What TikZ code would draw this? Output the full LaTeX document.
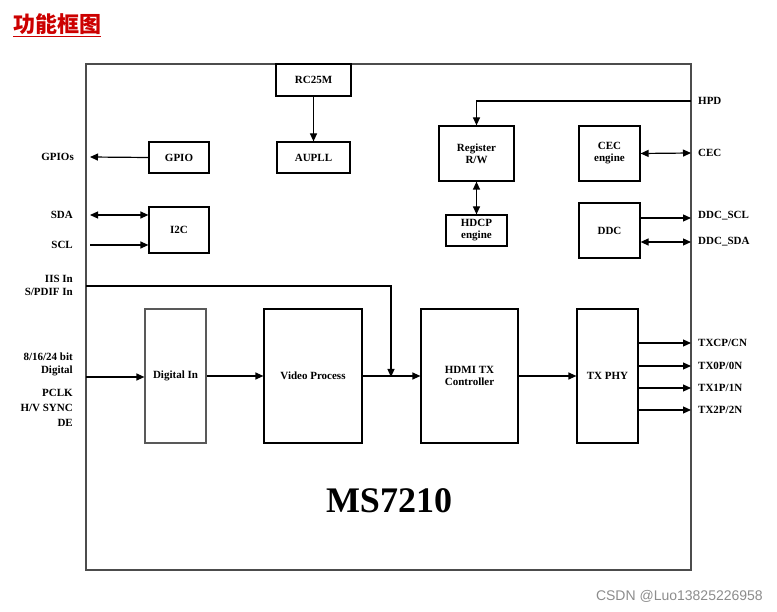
\documentclass[tikz,border=0pt]{standalone}
\usepackage{fontspec}
\setmainfont{Liberation Serif}
\newfontfamily\cjk{Noto Sans CJK SC}
\newfontfamily\wm{Liberation Sans}
\usetikzlibrary{arrows.meta}
\begin{document}
\begin{tikzpicture}[x=1pt,y=-1pt,
  blk/.style={draw,line width=1.2pt,font=\bfseries\fontsize{11}{12}\selectfont,align=center,inner sep=0pt},
  lbl/.style={font=\bfseries\fontsize{11}{13}\selectfont,inner sep=0pt},
  ar/.style={line width=1.2pt,-{Triangle[length=8pt,width=7pt]}},
  dar/.style={line width=1.2pt,{Triangle[length=8pt,width=7pt]}-{Triangle[length=8pt,width=7pt]}}]
\useasboundingbox (0,0) rectangle (777,612);
\node[anchor=west,inner sep=0pt,text=red!80!black,font=\cjk\bfseries\fontsize{22}{24}\selectfont] (title) at (13,25) {\underline{功能框图}};
\draw[line width=1.2pt,draw=black!70] (86,64) rectangle (691,570);
\path (86,64) coordinate (L0) (691,64) coordinate (R0);
\node[blk,minimum width=75pt,minimum height=32pt] (rc) at (313.5,80) {RC25M};
\node[blk,minimum width=73pt,minimum height=31pt] (aupll) at (313.5,157.5) {AUPLL};
\node[blk,minimum width=60pt,minimum height=31pt] (gpio) at (179,157.5) {GPIO};
\node[blk,minimum width=60pt,minimum height=46pt] (i2c) at (179,230) {I2C};
\node[blk,minimum width=75pt,minimum height=55pt] (reg) at (476.5,153.5) {Register\\R/W};
\node[blk,minimum width=61pt,minimum height=31pt] (hdcp) at (476.5,230.5) {HDCP\\engine};
\node[blk,minimum width=61pt,minimum height=55pt] (cec) at (609.5,153.5) {CEC\\engine};
\node[blk,minimum width=61pt,minimum height=55pt] (ddc) at (609.5,230.5) {DDC};
\node[blk,draw=black!65,minimum width=61pt,minimum height=134pt] (din) at (175.5,376) {Digital In};
\node[blk,minimum width=98pt,minimum height=134pt] (vp) at (313,376) {Video Process};
\node[blk,minimum width=97pt,minimum height=134pt] (hdmi) at (469.5,376) {HDMI TX\\Controller};
\node[blk,minimum width=61pt,minimum height=134pt] (phy) at (607.5,376) {TX PHY};
\node[font=\bfseries\fontsize{36}{40}\selectfont,inner sep=0pt] (ms) at (389,501) {MS7210};
% left labels
\node[lbl,anchor=east] (gpios) at (74,157) {GPIOs};
\node[lbl,anchor=east] (sda) at (73,215) {SDA};
\node[lbl,anchor=east] (scl) at (73,245) {SCL};
\node[lbl,anchor=east,align=right] (iis) at (73,285) {IIS In\\S/PDIF In};
\node[lbl,anchor=east,align=right] (dig) at (73,364) {8/16/24 bit\\Digital};
\node[lbl,anchor=east,align=right,font=\bfseries\fontsize{11}{15}\selectfont] (pclk) at (73,408) {PCLK\\H/V SYNC\\DE};
% right labels
\node[lbl,anchor=west] (hpd) at (698,101) {HPD};
\node[lbl,anchor=west] (cecl) at (698,153) {CEC};
\node[lbl,anchor=west] (scl2) at (698,216) {DDC\_SCL};
\node[lbl,anchor=west] (sda2) at (698,242) {DDC\_SDA};
\node[lbl,anchor=west] (t0) at (698,343) {TXCP/CN};
\node[lbl,anchor=west] (t1) at (698,366) {TX0P/0N};
\node[lbl,anchor=west] (t2) at (698,388) {TX1P/1N};
\node[lbl,anchor=west] (t3) at (698,410) {TX2P/2N};
% connectors
\draw[ar] (rc) -- (aupll);
\draw[ar] (gpio.west) -- (90,157) coordinate (g1);
\draw[dar] (90,215) coordinate (s1) -- (i2c.west |- s1);
\draw[ar] (90,245) coordinate (s2) -- (i2c.west |- s2);
\draw[ar] (691,101) coordinate (h1) -- (reg.north |- h1) -- (reg.north);
\draw[dar] (reg) -- (hdcp);
\draw[dar] (cec.east) -- (691,153) coordinate (c1);
\draw[ar] (ddc.east |- 0,218) -- (691,218) coordinate (d1);
\draw[dar] (ddc.east |- 0,242) -- (691,242) coordinate (d2);
\draw[ar] (86,286) coordinate (i1) -- (391,286) -- (391,377) coordinate (i2);
\draw[ar] (86,377) coordinate (p0) -- (din.west |- p0);
\draw[ar] (din) -- (vp);
\draw[ar] (vp) -- (hdmi);
\draw[ar] (hdmi) -- (phy);
\foreach \y in {343,366,388,410} \draw[ar] (phy.east |- 0,\y) -- (691,\y);
\node[anchor=east,inner sep=0pt,text=black!45,font=\wm\fontsize{14}{16}\selectfont] (wm) at (763,596) {CSDN @Luo13825226958};
\end{tikzpicture}
\end{document}
